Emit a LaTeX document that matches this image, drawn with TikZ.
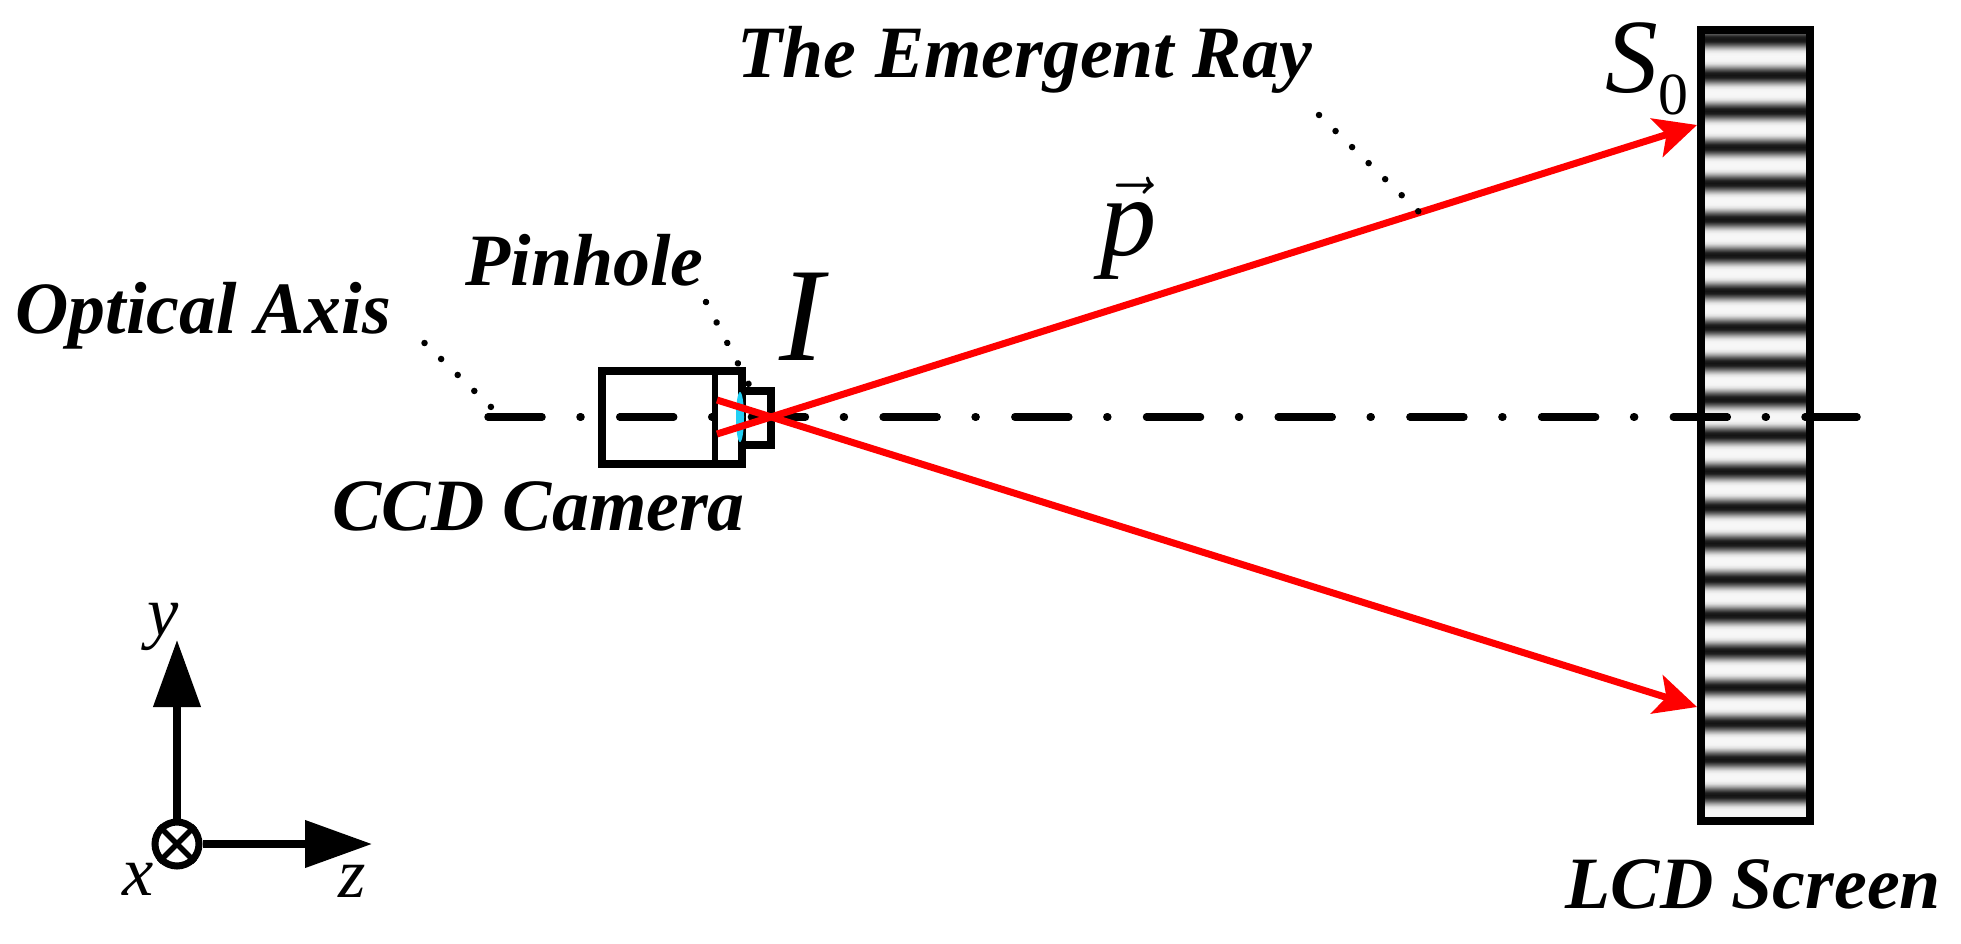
\documentclass[tikz,border=0pt]{standalone}
\usepackage{fontspec}
\usepackage{xcolor}
\usetikzlibrary{arrows.meta,shapes.geometric}
\setmainfont{Liberation Serif}
\definecolor{lenscyan}{RGB}{33,208,245}
\pgfdeclareverticalshading{fringe}{100bp}{color(0bp)=(white); color(25bp)=(black!3); color(30bp)=(black!4); color(34bp)=(black!12); color(38bp)=(black!34); color(42bp)=(black!62); color(46.5bp)=(black!88); color(50bp)=(black!92); color(53.5bp)=(black!88); color(58bp)=(black!62); color(62bp)=(black!34); color(66bp)=(black!12); color(70bp)=(black!4); color(75bp)=(black!3); color(100bp)=(white)}
\tikzset{
  caption/.style={font=\fontsize{21}{25}\selectfont\bfseries\itshape, anchor=base west, inner sep=0pt},
  symbol/.style={font=\fontsize{30}{36}\selectfont\itshape, anchor=base west, inner sep=0pt},
  axislabel/.style={font=\fontsize{20}{24}\selectfont\itshape, anchor=base west, inner sep=0pt},
  leader/.style={line width=0.065cm, line cap=round, dash pattern=on 0.01pt off 0.23cm},
  ray/.style={red, line width=0.07cm, -{Stealth[length=0.42cm, width=0.4cm, inset=0.1cm]}},
  axisarrow/.style={line width=0.075cm, -{Triangle[length=0.67cm, width=0.46cm]}},
  outline/.style={draw, rectangle, line width=0.08cm}
}
\begin{document}
\begin{tikzpicture}
\useasboundingbox (0,0) rectangle (19.61,9.43);
% Screen fringes
\begin{scope}
\clip (17.0,1.22) rectangle (18.1,9.13);
\foreach \k in {0,...,22} {
  \shade[shading=fringe] (17.0,{9.22-0.36*\k}) rectangle (18.1,{8.86-0.36*\k});
}
\end{scope}
\node[outline, minimum width=1.09cm, minimum height=7.90cm] (screen) at (17.55,5.175) {};

% Camera
\node[outline, minimum width=1.40cm, minimum height=0.93cm] (camera) at (6.72,5.255) {};
\node[outline, minimum width=0.29cm, minimum height=0.54cm] (snout) at (7.56,5.255) {};
\draw[line width=0.055cm] ([xshift=-0.31cm]camera.north east) -- ([xshift=-0.31cm]camera.south east);
\node[ellipse, fill=lenscyan, inner sep=0pt, minimum width=0.08cm, minimum height=0.5cm] (lens) at (7.40,5.26) {};

% Points
\coordinate (axisStart) at (4.88,5.26);
\coordinate (axisEnd) at (18.57,5.26);
\coordinate (rayTopStart) at (7.17,5.09);
\coordinate (rayTopEnd) at (16.97,8.18);
\coordinate (rayLowStart) at (7.17,5.43);
\coordinate (rayLowEnd) at (16.97,2.36);

% Optical axis
\draw[line width=0.075cm, line cap=round, dash pattern=on 0.54cm off 0.38cm on 0.01cm off 0.387cm] (axisStart) -- (axisEnd);

% Rays
\draw[ray] (rayTopStart) -- (rayTopEnd);
\draw[ray] (rayLowStart) -- (rayLowEnd);

% Dotted leaders
\coordinate (axisLeaderA) at (4.245,6.00);
\coordinate (axisLeaderB) at (4.91,5.36);
\coordinate (pinLeaderA) at (7.06,6.41);
\coordinate (pinLeaderB) at (7.59,5.39);
\coordinate (emLeaderA) at (13.19,8.28);
\coordinate (emLeaderB) at (14.19,7.31);
\draw[leader] (axisLeaderA) -- (axisLeaderB);
\draw[leader] (pinLeaderA) -- (pinLeaderB);
\draw[leader] (emLeaderA) -- (emLeaderB);

% Labels
\node[caption] (emergent) at (7.37,8.65) {The Emergent Ray};
\node[caption] (pinhole) at (4.65,6.58) {Pinhole};
\node[caption] (optical) at (0.15,6.10) {Optical Axis};
\node[caption] (ccd) at (3.32,4.13) {CCD Camera};
\node[caption] (lcd) at (15.65,0.35) {LCD Screen};
\node[symbol, font=\fontsize{38}{44}\selectfont\itshape] (image) at (7.79,5.83) {I};
\node[symbol] (source) at (16.05,8.51) {S\raisebox{-6.5pt}{\fontsize{17}{20}\selectfont\upshape 0}};
\node[symbol, font=\fontsize{32}{38}\selectfont\itshape] (vector) at (11.0,6.88) {$\vec{\textit{p}}$};

% Coordinate frame
\node[draw, circle, line width=0.07cm, inner sep=0pt, minimum size=0.44cm] (origin) at (1.77,0.99) {};
\draw[line width=0.055cm] (origin.45) -- (origin.225);
\draw[line width=0.055cm] (origin.135) -- (origin.315);
\coordinate (yTip) at (1.77,3.03);
\coordinate (zTip) at (3.72,0.99);
\draw[axisarrow] (origin.north) -- (yTip);
\draw[axisarrow] (origin.east) -- (zTip);
\node[axislabel] (ylab) at (1.47,3.08) {y};
\node[axislabel] (xlab) at (1.22,0.48) {x};
\node[axislabel] (zlab) at (3.38,0.46) {z};
\end{tikzpicture}
\end{document}
